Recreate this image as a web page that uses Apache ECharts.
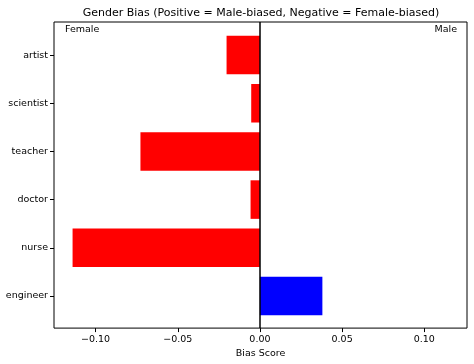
<!DOCTYPE html>
<html><head><meta charset="utf-8">
<script src="https://cdn.jsdelivr.net/npm/echarts@6/dist/echarts.min.js"></script>
<style>html,body{margin:0;padding:0;background:#fff}#c{width:474px;height:364px}</style>
</head><body><div id="c"></div>
<script>
const categories = ['engineer', 'nurse', 'doctor', 'teacher', 'scientist', 'artist'];
const biasScores = [0.038, -0.114, -0.0057, -0.0727, -0.0053, -0.0203];
const xTicks = [-0.10, -0.05, 0.00, 0.05, 0.10];
const xMin = -0.1253, xMax = 0.126;

const font = 'DejaVu Sans';
const fmt = v => (v < 0 ? '\u2212' : '') + Math.abs(v).toFixed(2);

const chart = echarts.init(document.getElementById('c'), null, {renderer: 'canvas'});
chart.setOption({
  animation: false,
  textStyle: {fontFamily: font},
  title: {
    text: 'Gender Bias (Positive = Male-biased, Negative = Female-biased)',
    left: 256, textAlign: 'center', top: 3,
    textStyle: {fontFamily: font, fontSize: 11, fontWeight: 'normal', color: '#000'}
  },
  grid: [
    {left: 54, right: 7, top: 22, bottom: 35, show: true, borderColor: '#000', borderWidth: 1, backgroundColor: 'transparent'},
    {left: 54, right: 7, top: 31, bottom: 44}
  ],
  xAxis: [
    {gridIndex: 0, type: 'value', min: xMin, max: xMax,
     name: 'Bias Score', nameLocation: 'middle', nameGap: 20,
     nameTextStyle: {fontFamily: font, fontSize: 9.5, color: '#000'},
     axisLine: {show: false},
     axisTick: {show: true, length: 4, lineStyle: {color: '#000', width: 1}, customValues: xTicks},
     axisLabel: {fontFamily: font, fontSize: 9.5, color: '#000', margin: 6, formatter: fmt, customValues: xTicks},
     splitLine: {show: false}},
    {gridIndex: 1, type: 'value', min: xMin, max: xMax, show: false, splitLine: {show: false}}
  ],
  yAxis: [
    {gridIndex: 0, type: 'value', min: 0, max: 1, show: false, splitLine: {show: false}},
    {gridIndex: 1, type: 'category', data: categories, boundaryGap: true, position: 'left',
     axisLine: {show: false, onZero: false},
     axisTick: {show: true, alignWithLabel: true, length: 4, lineStyle: {color: '#000', width: 1}},
     axisLabel: {fontFamily: font, fontSize: 9.5, color: '#000', margin: 6},
     splitLine: {show: false}}
  ],
  series: [
    {type: 'line', xAxisIndex: 0, yAxisIndex: 0, data: [], silent: true,
     markLine: {symbol: 'none', silent: true, label: {show: false},
       lineStyle: {color: '#000', width: 1.5, type: 'solid'},
       data: [{xAxis: 0}]}},
    {type: 'bar', xAxisIndex: 1, yAxisIndex: 1, barCategoryGap: '20%',
     data: biasScores.map(v => ({value: v, itemStyle: {color: v >= 0 ? '#0000ff' : '#ff0000'}}))}
  ],
  graphic: [
    {type: 'text', left: 65, top: 25, style: {text: 'Female', font: '9.5px "DejaVu Sans"', fill: '#000'}},
    {type: 'text', right: 17, top: 25, style: {text: 'Male', font: '9.5px "DejaVu Sans"', fill: '#000'}}
  ]
});
</script></body></html>
